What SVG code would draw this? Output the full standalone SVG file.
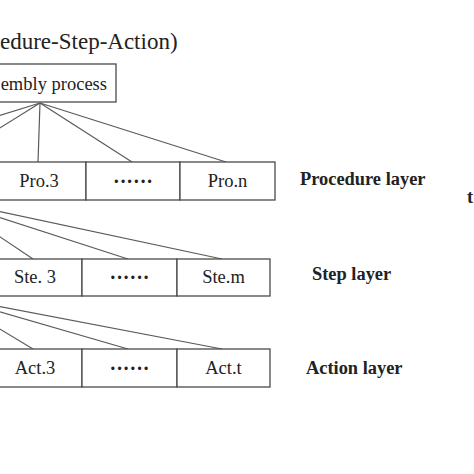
<svg xmlns="http://www.w3.org/2000/svg" width="474" height="474" viewBox="0 0 474 474">
<style>
.bg{fill:#fff}
.box{fill:#fff;stroke:#4a4a4a;stroke-width:1.3}
.t{font-family:"Liberation Serif","Times New Roman",serif;font-size:18.5px;fill:#222;text-anchor:middle}
.te{font-family:"Liberation Serif","Times New Roman",serif;font-size:18.5px;fill:#222;text-anchor:end}
.dots{font-family:"Liberation Serif","Times New Roman",serif;font-size:20px;font-weight:bold;fill:#222;text-anchor:middle}
.lbl{font-family:"Liberation Serif","Times New Roman",serif;font-size:18.4px;font-weight:bold;fill:#222}
.title{font-family:"Liberation Serif","Times New Roman",serif;font-size:23px;fill:#222}
.conn line{stroke:#5a5a5a;stroke-width:1.2}
</style>
<rect class="bg" x="0" y="0" width="474" height="474"/>
<text class="title" x="0" y="49">edure-Step-Action)</text>
<g id="connectors" class="conn">
<line x1="40" y1="103" x2="-149" y2="162"/>
<line x1="40" y1="103" x2="-55" y2="162"/>
<line x1="40" y1="103" x2="38" y2="162"/>
<line x1="40" y1="103" x2="132" y2="162"/>
<line x1="40" y1="103" x2="226" y2="162"/>
<line x1="-55" y1="200" x2="33" y2="259"/>
<line x1="-55" y1="200" x2="128" y2="259"/>
<line x1="-55" y1="200" x2="222" y2="259"/>
<line x1="-55" y1="296" x2="33" y2="349"/>
<line x1="-55" y1="296" x2="128" y2="349"/>
<line x1="-55" y1="296" x2="222" y2="349"/>
</g>
<g id="assembly">
<rect class="box" x="-60" y="64" width="176" height="38"/>
<text class="te" x="107" y="90">embly process</text>
</g>
<g id="pro3"><rect class="box" x="-8" y="162" width="94" height="38"/><text class="t" x="39" y="187">Pro.3</text></g>
<g id="prodots"><rect class="box" x="86" y="162" width="94" height="38"/><text class="dots" x="133" y="188">······</text></g>
<g id="pron"><rect class="box" x="180" y="162" width="95" height="38"/><text class="t" x="227.5" y="187">Pro.n</text></g>
<g id="ste3"><rect class="box" x="-12" y="259" width="94" height="37"/><text class="t" x="35" y="283">Ste. 3</text></g>
<g id="stedots"><rect class="box" x="82" y="259" width="95" height="37"/><text class="dots" x="129.5" y="284">······</text></g>
<g id="stem"><rect class="box" x="177" y="259" width="93" height="37"/><text class="t" x="223.5" y="283">Ste.m</text></g>
<g id="act3"><rect class="box" x="-12" y="349" width="94" height="38"/><text class="t" x="35" y="374">Act.3</text></g>
<g id="actdots"><rect class="box" x="82" y="349" width="95" height="38"/><text class="dots" x="129.5" y="375">······</text></g>
<g id="actt"><rect class="box" x="177" y="349" width="93" height="38"/><text class="t" x="223.5" y="374">Act.t</text></g>
<g id="labels">
<text class="lbl" x="300" y="185">Procedure layer</text>
<text class="lbl" x="312" y="280">Step layer</text>
<text class="lbl" x="306" y="374">Action layer</text>
<text class="lbl" x="467" y="203">t</text>
</g>
</svg>
